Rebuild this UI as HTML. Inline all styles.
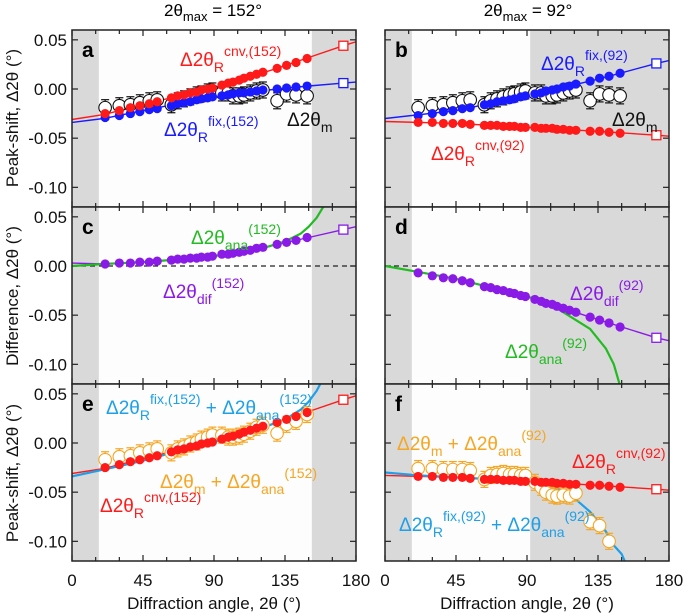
<!DOCTYPE html>
<html><head><meta charset="utf-8">
<style>
html,body{margin:0;padding:0;background:#fff;}
svg{display:block;font-family:"Liberation Sans",Arial,sans-serif;}
</style></head>
<body>
<svg id="chart" width="685" height="615" viewBox="0 0 685 615" xmlns="http://www.w3.org/2000/svg"></svg>
<script>
// ---------- data ----------
const angles = [21,30,37,43,49,54,63,67,71,75,79,82,86,89,95,99,102,106,109,113,117,121,130,136,142,149];
const measured = [-0.019,-0.017,-0.016,-0.014,-0.012,-0.011,-0.016,-0.012,-0.010,-0.008,-0.006,-0.005,-0.003,-0.002,-0.004,-0.004,-0.007,-0.007,-0.006,-0.004,-0.002,-0.001,-0.012,-0.005,-0.006,-0.007];
const cnv152 = [-0.025,-0.022,-0.019,-0.017,-0.015,-0.013,-0.009,-0.007,-0.006,-0.004,-0.003,-0.001,0.000,0.001,0.004,0.006,0.007,0.009,0.011,0.013,0.015,0.017,0.021,0.024,0.027,0.031];
const fix152 = [-0.029,-0.027,-0.025,-0.023,-0.021,-0.020,-0.017,-0.015,-0.014,-0.013,-0.011,-0.010,-0.009,-0.008,-0.007,-0.006,-0.005,-0.004,-0.004,-0.003,-0.002,-0.001,0.000,0.001,0.002,0.003];
const dif152 = [0.002,0.003,0.003,0.004,0.004,0.005,0.006,0.007,0.007,0.008,0.008,0.009,0.009,0.010,0.012,0.012,0.013,0.014,0.015,0.016,0.018,0.019,0.022,0.024,0.026,0.029];
const mAna152 = [-0.017,-0.014,-0.013,-0.010,-0.008,-0.006,-0.010,-0.006,-0.004,-0.001,0.001,0.004,0.006,0.008,0.008,0.006,0.006,0.007,0.009,0.012,0.016,0.018,0.010,0.019,0.022,0.029];
const cnv92 = [-0.034,-0.034,-0.035,-0.035,-0.035,-0.036,-0.037,-0.037,-0.037,-0.038,-0.038,-0.038,-0.039,-0.039,-0.039,-0.040,-0.040,-0.040,-0.041,-0.041,-0.042,-0.042,-0.043,-0.043,-0.044,-0.045];
const fix92 = [-0.027,-0.025,-0.023,-0.022,-0.020,-0.019,-0.016,-0.015,-0.013,-0.012,-0.011,-0.010,-0.008,-0.007,-0.005,-0.004,-0.002,-0.001,0.000,0.002,0.003,0.005,0.008,0.011,0.013,0.016];
const dif92 = [-0.007,-0.010,-0.012,-0.013,-0.015,-0.017,-0.021,-0.022,-0.024,-0.025,-0.027,-0.028,-0.030,-0.031,-0.034,-0.036,-0.038,-0.039,-0.041,-0.043,-0.045,-0.047,-0.052,-0.055,-0.058,-0.062];
const mAna92 = [-0.026,-0.026,-0.027,-0.027,-0.027,-0.028,-0.037,-0.033,-0.032,-0.031,-0.032,-0.032,-0.033,-0.033,-0.040,-0.045,-0.050,-0.053,-0.054,-0.053,-0.054,-0.051,-0.080,-0.084,-0.100,-0.130];
// fitted curves: [angle, value]
const cnv152Line = [[0,-0.031],[20,-0.026],[45,-0.016],[70,-0.006],[90,0.001],[110,0.011],[130,0.021],[150,0.032],[172,0.044],[180,0.048]];
const fix152Line = [[0,-0.034],[20,-0.030],[45,-0.022],[70,-0.014],[90,-0.008],[110,-0.004],[130,0.000],[150,0.003],[172,0.006],[180,0.007]];
const dif152Line = [[0,0.003],[21,0.002],[45,0.004],[70,0.007],[90,0.010],[110,0.015],[130,0.022],[150,0.029],[172,0.037],[180,0.040]];
const ana152Line = [[0,0.000],[20,0.002],[45,0.004],[70,0.007],[90,0.010],[110,0.015],[125,0.020],[135,0.025],[145,0.033],[150,0.040],[155,0.049],[160,0.062]];
const fixAna152Line = [[0,-0.034],[20,-0.027],[45,-0.018],[70,-0.007],[90,0.001],[110,0.011],[125,0.018],[135,0.024],[145,0.034],[150,0.042],[155,0.053],[158,0.062]];
const cnv92Line = [[0,-0.033],[45,-0.035],[90,-0.039],[135,-0.043],[172,-0.047],[180,-0.048]];
const fix92Line = [[0,-0.030],[45,-0.022],[90,-0.007],[135,0.010],[172,0.026],[180,0.029]];
const dif92Line = [[0,0.000],[21,-0.006],[45,-0.013],[90,-0.031],[130,-0.052],[172,-0.073],[180,-0.076]];
const ana92Line = [[0,0.000],[21,-0.006],[45,-0.013],[70,-0.023],[90,-0.031],[100,-0.036],[110,-0.044],[120,-0.054],[130,-0.064],[140,-0.084],[145,-0.100],[149,-0.122]];
const fixAna92Line = [[0,-0.030],[21,-0.033],[45,-0.035],[70,-0.037],[90,-0.038],[100,-0.041],[110,-0.047],[120,-0.056],[130,-0.070],[140,-0.090],[145,-0.104],[150,-0.113],[153,-0.124]];
const xTicks = [0,45,90,135,180];
const yTicks = [0.05,0.00,-0.05,-0.10];
const yTickLabels = ["0.05","0.00","-0.05","-0.10"];

// ---------- layout ----------
const NS = "http://www.w3.org/2000/svg";
const svg = document.getElementById("chart");
const cols = [{x0:72,x1:356,gray:152},{x0:385,x1:669,gray:92}];
const rows = [30,207,384];
const H = 177, YMAX = 0.06, YMIN = -0.12;
const C = {red:"#ff1a1a",blue:"#1a1aff",purple:"#8a1ae6",green:"#22bb22",cyan:"#1ea0e8",orange:"#f5a623"};

function mk(tag, attrs, parent){
  const e = document.createElementNS(NS, tag);
  for (const k in attrs) e.setAttribute(k, attrs[k]);
  (parent||svg).appendChild(e);
  return e;
}
function sx(col, a){ return col.x0 + (a/180)*(col.x1-col.x0); }
function sy(top, v){ return top + (YMAX - v)/(YMAX-YMIN)*H; }

function header(x, txt){
  const t = mk("text",{x:x,y:16,"text-anchor":"middle","font-size":"17"});
  
  
  t.innerHTML = '2θ<tspan font-size="13" baseline-shift="-5">max</tspan> = '+txt;
}
header(213,"152°");
header(528,"92°");

function panel(ci, ri, letter, name){
  const col = cols[ci], top = rows[ri];
  const g = mk("g",{});
  
  
  const cid = "clip"+ci+ri;
  const cp = mk("clipPath",{id:cid}, g);
  mk("rect",{x:col.x0,y:top,width:col.x1-col.x0,height:H},cp);
  mk("rect",{x:col.x0,y:top,width:col.x1-col.x0,height:H,fill:"#d9d9d9"},g);
  const wr = mk("rect",{x:sx(col,17),y:top,width:sx(col,col.gray)-sx(col,17),height:H,fill:"#fdfdfd"},g);
  
  
  for (let a=0; a<=180; a+=15){
    const len = (a%45===0)?6:4;
    const x = sx(col,a);
    mk("line",{x1:x,y1:top,x2:x,y2:top+len,stroke:"#222","stroke-width":1.2},g);
    mk("line",{x1:x,y1:top+H,x2:x,y2:top+H-len,stroke:"#222","stroke-width":1.2},g);
  }
  yTicks.forEach((v,i)=>{
    const y = sy(top,v);
    mk("line",{x1:col.x0,y1:y,x2:col.x0+6,y2:y,stroke:"#222","stroke-width":1.2},g);
    mk("line",{x1:col.x1,y1:y,x2:col.x1-6,y2:y,stroke:"#222","stroke-width":1.2},g);
    if (ci===0){
      const t = mk("text",{x:col.x0-5,y:y+6,"text-anchor":"end","font-size":"17",fill:"#111"},g);
      
      
      t.textContent = yTickLabels[i];
    }
  });
  const L = mk("text",{x:col.x0+10,y:top+27,"font-size":"21","font-weight":"bold"},g);
  
  
  L.textContent = letter;
  const plot = mk("g",{"clip-path":"url(#"+cid+")"},g);
  return {col, top, g, plot};
}

function line(P, pts, color, w, name, dash){
  const d = pts.map((p,i)=>(i?"L":"M")+sx(P.col,p[0]).toFixed(1)+","+sy(P.top,p[1]).toFixed(1)).join(" ");
  const e = mk("path",{d:d,fill:"none",stroke:color,"stroke-width":w||1.4},P.plot);
  if (dash) e.setAttribute("stroke-dasharray",dash);
  
  
}
function square(P, a, v, color){
  const s = mk("rect",{x:sx(P.col,a)-4.5,y:sy(P.top,v)-4.5,width:9,height:9,fill:"#fff",stroke:color,"stroke-width":1.3},P.plot);
  
  
}
function interp(pts, a){
  for (let i=1;i<pts.length;i++){ if (a<=pts[i][0]){ const t=(a-pts[i-1][0])/(pts[i][0]-pts[i-1][0]); return pts[i-1][1]+t*(pts[i][1]-pts[i-1][1]); } }
  return pts[pts.length-1][1];
}
function dots(P, vals, color, name){
  vals.forEach((v,i)=>{
    const c = mk("circle",{cx:sx(P.col,angles[i]),cy:sy(P.top,v),r:4.6,fill:color},P.plot);
    
    
  });
}
function rings(P, vals, color, name){
  vals.forEach((v,i)=>{
    const x = sx(P.col,angles[i]), y = sy(P.top,v), e = 8;
    const gg = mk("g",{},P.plot);
    
    
    mk("line",{x1:x,y1:y-e,x2:x,y2:y+e,stroke:color,"stroke-width":1.2},gg);
    mk("line",{x1:x-4,y1:y-e,x2:x+4,y2:y-e,stroke:color,"stroke-width":1.2},gg);
    mk("line",{x1:x-4,y1:y+e,x2:x+4,y2:y+e,stroke:color,"stroke-width":1.2},gg);
    mk("circle",{cx:x,cy:y,r:6.3,fill:"#fff",stroke:color,"stroke-width":1.1},gg);
  });
}
function frame(P){
  const f = mk("rect",{x:P.col.x0,y:P.top,width:P.col.x1-P.col.x0,height:H,fill:"none",stroke:"#222","stroke-width":1.5},P.g);
  
  
}
function label(x, y, color, html, name){
  const t = mk("text",{x:x,y:y,"font-size":"19",fill:color});
  
  
  t.innerHTML = html;
}
function R(sup){ return 'Δ2θ<tspan font-size="14" baseline-shift="-6">R</tspan><tspan font-size="14" baseline-shift="10">'+sup+'</tspan>'; }
function A(sub, sup){ return 'Δ2θ<tspan font-size="14" baseline-shift="-6">'+sub+'</tspan>'+(sup?'<tspan font-size="14" baseline-shift="10">'+sup+'</tspan>':''); }

// ---- panel a ----
let P = panel(0,0,"a","panel-a");
line(P, cnv152Line, C.red, 1.4, "cnv152-fit-line");
line(P, fix152Line, C.blue, 1.4, "fix152-fit-line");
rings(P, measured, "#111", "measured-point");
dots(P, fix152, C.blue, "fix152-point");
dots(P, cnv152, C.red, "cnv152-point");
square(P,172,interp(cnv152Line,172),C.red);
square(P,172,interp(fix152Line,172),C.blue);
frame(P);
// ---- panel b ----
P = panel(1,0,"b","panel-b");
line(P, cnv92Line, C.red, 1.4, "cnv92-fit-line");
line(P, fix92Line, C.blue, 1.4, "fix92-fit-line");
rings(P, measured, "#111", "measured-point");
dots(P, fix92, C.blue, "fix92-point");
dots(P, cnv92, C.red, "cnv92-point");
square(P,172,interp(cnv92Line,172),C.red);
square(P,172,interp(fix92Line,172),C.blue);
frame(P);
// ---- panel c ----
P = panel(0,1,"c","panel-c");
line(P, [[0,0],[180,0]], "#222", 1.3, "zero-line", "5,4");
line(P, dif152Line, C.purple, 1.4, "dif152-fit-line");
line(P, ana152Line, C.green, 2.2, "ana152-curve");
dots(P, dif152, C.purple, "dif152-point");
square(P,172,interp(dif152Line,172),C.purple);
frame(P);
// ---- panel d ----
P = panel(1,1,"d","panel-d");
line(P, [[0,0],[180,0]], "#222", 1.3, "zero-line", "5,4");
line(P, dif92Line, C.purple, 1.4, "dif92-fit-line");
line(P, ana92Line, C.green, 2.2, "ana92-curve");
dots(P, dif92, C.purple, "dif92-point");
square(P,172,interp(dif92Line,172),C.purple);
frame(P);
// ---- panel e ----
P = panel(0,2,"e","panel-e");
line(P, cnv152Line, C.red, 1.4, "cnv152-fit-line");
line(P, fixAna152Line, C.cyan, 2.2, "fix-plus-ana152-curve");
rings(P, mAna152, C.orange, "measured-plus-ana152-point");
dots(P, cnv152, C.red, "cnv152-point");
square(P,172,interp(cnv152Line,172),C.red);
frame(P);
// ---- panel f ----
P = panel(1,2,"f","panel-f");
line(P, cnv92Line, C.red, 1.4, "cnv92-fit-line");
line(P, fixAna92Line, C.cyan, 2.2, "fix-plus-ana92-curve");
rings(P, mAna92, C.orange, "measured-plus-ana92-point");
dots(P, cnv92, C.red, "cnv92-point");
square(P,172,interp(cnv92Line,172),C.red);
frame(P);

// ---------- annotations ----------
label(180,66,C.red,R("cnv,(152)"),"cnv152-label");
label(164,136,C.blue,R("fix,(152)"),"fix152-label");
label(287,126,"#111",A("m"),"measured-label");
label(541,70,C.blue,R("fix,(92)"),"fix92-label");
label(612,126,"#111",A("m"),"measured-label");
label(431,160,C.red,R("cnv,(92)"),"cnv92-label");
label(191,244,C.green,A("ana","(152)"),"ana152-label");
label(163,298,C.purple,A("dif","(152)"),"dif152-label");
label(570,300,C.purple,A("dif","(92)"),"dif92-label");
label(505,358,C.green,A("ana","(92)"),"ana92-label");
label(106,414,C.cyan,R("fix,(152)")+' + '+A("ana","(152)"),"fix-plus-ana152-label");
label(160,488,C.orange,A("m")+' + '+A("ana","(152)"),"measured-plus-ana152-label");
label(100,512,C.red,R("cnv,(152)"),"cnv152-label-e");
label(397,450,C.orange,A("m")+' + '+A("ana","(92)"),"measured-plus-ana92-label");
label(572,468,C.red,R("cnv,(92)"),"cnv92-label-f");
label(399,531,C.cyan,R("fix,(92)")+' + '+A("ana","(92)"),"fix-plus-ana92-label");

// ---------- axes labels ----------
cols.forEach(col=>{
  xTicks.forEach(a=>{
    const t = mk("text",{x:sx(col,a),y:586,"text-anchor":"middle","font-size":"17",fill:"#111"});
    
    
    t.textContent = a;
  });
  const xt = mk("text",{x:(col.x0+col.x1)/2,y:609,"text-anchor":"middle","font-size":"17",fill:"#111"});
  
  
  xt.textContent = "Diffraction angle, 2θ (°)";
});
[["Peak-shift, Δ2θ (°)",118],["Difference, Δ2θ (°)",296],["Peak-shift, Δ2θ (°)",473]].forEach(([s,cy])=>{
  const t = mk("text",{x:0,y:0,"text-anchor":"middle","font-size":"17",fill:"#111",transform:"translate(18,"+cy+") rotate(-90)"});
  
  
  t.textContent = s;
});
</script>
</body></html>
